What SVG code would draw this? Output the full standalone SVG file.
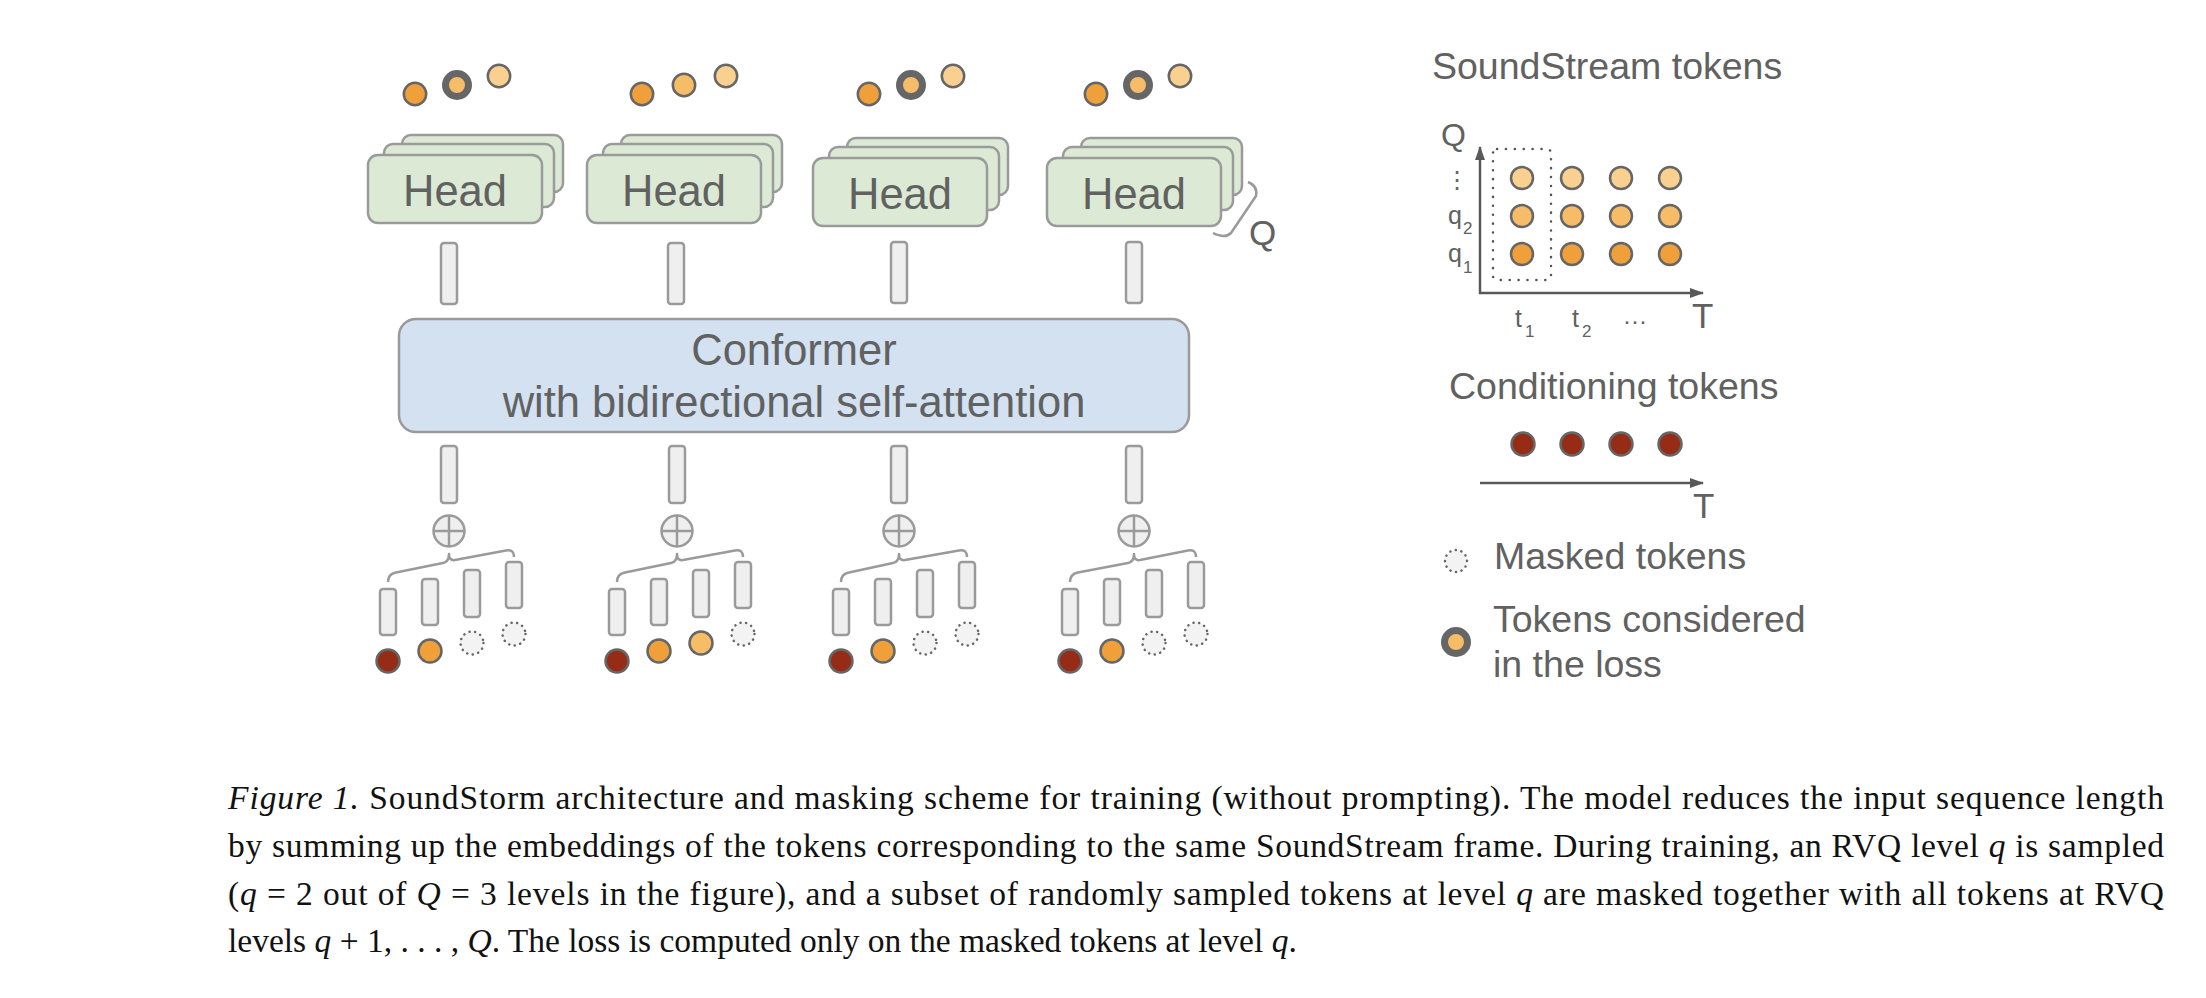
<svg xmlns="http://www.w3.org/2000/svg" width="2206" height="998" viewBox="0 0 2206 998">
<defs>
<style>
.lbl{font-family:"Liberation Sans",Arial,sans-serif;fill:#616161}
.cap{font-family:"Liberation Serif","Times New Roman",serif;fill:#111;font-size:33.5px}
.it{font-style:italic}
.head{fill:#dcead5;stroke:#9a9a9a;stroke-width:2.5}
.bar{fill:#efefef;stroke:#9a9a9a;stroke-width:2.5}
.tok{stroke:#666;stroke-width:2.5}
.ring{stroke:#666;stroke-width:7}
.q1{fill:#f0a03a}.q2{fill:#f6bc67}.q3{fill:#f9d08f}.cond{fill:#962c16}
.mask{fill:#f3f3f3;stroke:#666;stroke-width:2.5;stroke-dasharray:0.1 5.6;stroke-linecap:round}
.brace{fill:none;stroke:#9a9a9a;stroke-width:2.5;stroke-linejoin:round}
.axis{stroke:#595959;stroke-width:2.5;fill:none}
</style>
<marker id="ah" viewBox="0 0 14 10" refX="13" refY="5" markerWidth="14" markerHeight="10" markerUnits="userSpaceOnUse" orient="auto">
<path d="M0,0 L14,5 L0,10 Z" fill="#595959"/>
</marker>
<g id="stack">
<rect class="head" x="34" y="-20" width="161" height="57" rx="9"/>
<rect class="head" x="16" y="-11" width="170" height="63" rx="9"/>
<rect class="head" x="0" y="0" width="174" height="68" rx="10"/>
<text class="lbl" x="87" y="51" font-size="43.5" text-anchor="middle">Head</text>
</g>
<g id="plus">
<circle class="bar" cx="0" cy="0" r="15.5"/>
<path d="M-15.5,0 H15.5 M0,-15.5 V15.5" stroke="#9a9a9a" stroke-width="2.5"/>
</g>
<g id="inbars">
<rect class="bar" x="-8" y="589" width="16" height="46" rx="3"/>
<rect class="bar" x="34" y="579" width="16" height="46" rx="3"/>
<rect class="bar" x="76" y="570" width="16" height="47" rx="3"/>
<rect class="bar" x="118" y="562" width="16" height="46" rx="3"/>
</g>
</defs>

<g id="head1">
<use href="#stack" x="368" y="155"/>
<circle class="tok q1" cx="415" cy="94" r="11.2"/>
<circle class="ring q2" cx="457" cy="85" r="11.5"/>
<circle class="tok q3" cx="499" cy="76" r="11.2"/>
<rect class="bar" x="441" y="243" width="16" height="61" rx="3"/>
</g>
<g id="head2">
<use href="#stack" x="587" y="155"/>
<circle class="tok q1" cx="642" cy="94" r="11.2"/>
<circle class="tok q2" cx="684" cy="85" r="11.2"/>
<circle class="tok q3" cx="726" cy="76" r="11.2"/>
<rect class="bar" x="668" y="243" width="16" height="61" rx="3"/>
</g>
<g id="head3">
<use href="#stack" x="813" y="158"/>
<circle class="tok q1" cx="869" cy="94" r="11.2"/>
<circle class="ring q2" cx="911" cy="85" r="11.5"/>
<circle class="tok q3" cx="953" cy="76" r="11.2"/>
<rect class="bar" x="891" y="242" width="16" height="61" rx="3"/>
</g>
<g id="head4">
<use href="#stack" x="1047" y="158"/>
<circle class="tok q1" cx="1096" cy="94" r="11.2"/>
<circle class="ring q2" cx="1138" cy="85" r="11.5"/>
<circle class="tok q3" cx="1180" cy="76" r="11.2"/>
<rect class="bar" x="1126" y="242" width="16" height="61" rx="3"/>
<path class="brace" d="M1248,182 Q1258,186 1256,196 L1231,233 Q1225,239 1213,233"/>
<text class="lbl" x="1249" y="245" font-size="35">Q</text>
</g>

<g id="conformer">
<rect x="399" y="319" width="790" height="113" rx="17" fill="#d3e1f1" stroke="#9a9a9a" stroke-width="2.5"/>
<text class="lbl" x="794" y="365" font-size="43.5" text-anchor="middle">Conformer</text>
<text class="lbl" x="794" y="417" font-size="43.5" text-anchor="middle">with bidirectional self-attention</text>
</g>

<g id="input1">
<rect class="bar" x="441" y="446" width="16" height="57" rx="3"/>
<use href="#plus" x="449" y="531"/>
<use href="#inbars" x="388" y="0"/>
<circle class="tok cond" cx="388" cy="661" r="11.5"/>
<circle class="tok q1" cx="430" cy="651" r="11.5"/>
<circle class="mask" cx="472" cy="643" r="11.5"/>
<circle class="mask" cx="514" cy="634" r="11.5"/>
</g>
<g id="input2">
<rect class="bar" x="669" y="446" width="16" height="57" rx="3"/>
<use href="#plus" x="677" y="531"/>
<use href="#inbars" x="617" y="0"/>
<circle class="tok cond" cx="617" cy="661" r="11.5"/>
<circle class="tok q1" cx="659" cy="651" r="11.5"/>
<circle class="tok q2" cx="701" cy="643" r="11.5"/>
<circle class="mask" cx="743" cy="634" r="11.5"/>
</g>
<g id="input3">
<rect class="bar" x="891" y="446" width="16" height="57" rx="3"/>
<use href="#plus" x="899" y="531"/>
<use href="#inbars" x="841" y="0"/>
<circle class="tok cond" cx="841" cy="661" r="11.5"/>
<circle class="tok q1" cx="883" cy="651" r="11.5"/>
<circle class="mask" cx="925" cy="643" r="11.5"/>
<circle class="mask" cx="967" cy="634" r="11.5"/>
</g>
<g id="input4">
<rect class="bar" x="1126" y="446" width="16" height="57" rx="3"/>
<use href="#plus" x="1134" y="531"/>
<use href="#inbars" x="1070" y="0"/>
<circle class="tok cond" cx="1070" cy="661" r="11.5"/>
<circle class="tok q1" cx="1112" cy="651" r="11.5"/>
<circle class="mask" cx="1154" cy="643" r="11.5"/>
<circle class="mask" cx="1196" cy="634" r="11.5"/>
</g>

<g id="connectors">
<path class="brace" d="M388,582 Q388,574 396,572.5 L443,563 Q449,562 449,554 Q449,561 455,560 L506,550.5 Q514,549 514,557"/>
<path class="brace" d="M617,582 Q617,574 625,572.5 L671,563 Q677,562 677,554 Q677,561 683,560 L735,550.5 Q743,549 743,557"/>
<path class="brace" d="M841,582 Q841,574 849,572.5 L893,563 Q899,562 899,554 Q899,561 905,560 L959,550.5 Q967,549 967,557"/>
<path class="brace" d="M1070,582 Q1070,574 1078,572.5 L1128,563 Q1134,562 1134,554 Q1134,561 1140,560 L1188,550.5 Q1196,549 1196,557"/>
</g>

<g id="legend-soundstream">
<text class="lbl" x="1432" y="79" font-size="37.5">SoundStream tokens</text>
<text class="lbl" x="1441" y="146" font-size="32">Q</text>
<line class="axis" x1="1480" y1="294" x2="1480" y2="147" marker-end="url(#ah)"/>
<line class="axis" x1="1479" y1="293" x2="1703" y2="293" marker-end="url(#ah)"/>
<text class="lbl" x="1692" y="328" font-size="35">T</text>
<rect x="1493" y="149" width="58" height="131" rx="4" fill="none" stroke="#555" stroke-width="2.5" stroke-dasharray="0.1 8.8" stroke-linecap="round"/>
<circle class="tok q3" cx="1522" cy="178" r="11"/>
<circle class="tok q3" cx="1572" cy="178" r="11"/>
<circle class="tok q3" cx="1621" cy="178" r="11"/>
<circle class="tok q3" cx="1670" cy="178" r="11"/>
<circle class="tok q2" cx="1522" cy="216" r="11"/>
<circle class="tok q2" cx="1572" cy="216" r="11"/>
<circle class="tok q2" cx="1621" cy="216" r="11"/>
<circle class="tok q2" cx="1670" cy="216" r="11"/>
<circle class="tok q1" cx="1522" cy="254" r="11"/>
<circle class="tok q1" cx="1572" cy="254" r="11"/>
<circle class="tok q1" cx="1621" cy="254" r="11"/>
<circle class="tok q1" cx="1670" cy="254" r="11"/>
<text class="lbl" x="1457" y="188" font-size="24" text-anchor="middle" font-family="DejaVu Sans, sans-serif">⋮</text>
<text class="lbl" x="1448" y="224" font-size="25">q</text><text class="lbl" x="1463" y="234" font-size="17">2</text>
<text class="lbl" x="1448" y="262" font-size="25">q</text><text class="lbl" x="1463" y="273" font-size="17">1</text>
<text class="lbl" x="1515" y="327" font-size="25">t</text><text class="lbl" x="1525" y="337" font-size="17">1</text>
<text class="lbl" x="1572" y="327" font-size="25">t</text><text class="lbl" x="1582" y="337" font-size="17">2</text>
<text class="lbl" x="1623" y="329" font-size="24">···</text>
</g>

<g id="legend-conditioning">
<text class="lbl" x="1449" y="399" font-size="37.5">Conditioning tokens</text>
<circle class="tok cond" cx="1523" cy="444" r="11.5"/>
<circle class="tok cond" cx="1572" cy="444" r="11.5"/>
<circle class="tok cond" cx="1621" cy="444" r="11.5"/>
<circle class="tok cond" cx="1670" cy="444" r="11.5"/>
<line class="axis" x1="1480" y1="483" x2="1703" y2="483" marker-end="url(#ah)"/>
<text class="lbl" x="1693" y="518" font-size="35">T</text>
</g>

<g id="legend-masked">
<circle class="mask" cx="1456" cy="561" r="11"/>
<text class="lbl" x="1494" y="569" font-size="37.5">Masked tokens</text>
</g>
<g id="legend-loss">
<circle class="ring q2" cx="1456" cy="642" r="11.5"/>
<text class="lbl" x="1493" y="632" font-size="37.5">Tokens considered</text>
<text class="lbl" x="1493" y="677" font-size="37.5">in the loss</text>
</g>

<g id="caption">
<text class="cap" x="228" y="809" textLength="1936" lengthAdjust="spacing"><tspan class="it">Figure 1.</tspan> SoundStorm architecture and masking scheme for training (without prompting). The model reduces the input sequence length</text>
<text class="cap" x="228" y="857" textLength="1936" lengthAdjust="spacing">by summing up the embeddings of the tokens corresponding to the same SoundStream frame. During training, an RVQ level <tspan class="it">q</tspan> is sampled</text>
<text class="cap" x="228" y="905" textLength="1936" lengthAdjust="spacing">(<tspan class="it">q</tspan> = 2 out of <tspan class="it">Q</tspan> = 3 levels in the figure), and a subset of randomly sampled tokens at level <tspan class="it">q</tspan> are masked together with all tokens at RVQ</text>
<text class="cap" x="228" y="952">levels <tspan class="it">q</tspan> + 1, . . . , <tspan class="it">Q</tspan>. The loss is computed only on the masked tokens at level <tspan class="it">q</tspan>.</text>
</g>
</svg>
